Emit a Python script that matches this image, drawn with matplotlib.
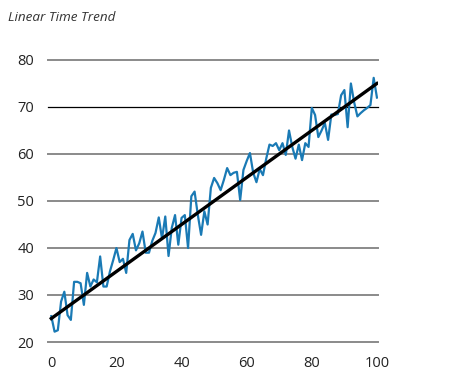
import numpy as np
import matplotlib
matplotlib.use("Agg")
import matplotlib.pyplot as plt

# ==========================
# DATA
# ==========================

x = np.arange(0, 101)

observed = [
    25.5, 22.2, 22.5, 28.6, 30.7, 25.7, 24.7, 32.8, 32.8, 32.5,
    27.9, 34.7, 31.8, 33.3, 32.7, 38.2, 31.8, 31.8, 35.0, 37.4,
    40.0, 37.0, 37.7, 34.7, 41.7, 43.0, 39.5, 41.0, 43.5, 39.0,
    39.0, 41.5, 43.2, 46.5, 42.0, 46.7, 38.3, 44.3, 47.0, 40.7,
    46.4, 47.0, 40.0, 51.0, 52.0, 47.0, 42.8, 47.8, 45.0, 52.8,
    54.9, 53.8, 52.3, 54.5, 57.0, 55.5, 56.0, 56.2, 50.2, 56.6,
    58.5, 60.2, 56.0, 54.0, 56.8, 55.5, 59.0, 62.0, 61.7, 62.3,
    60.8, 62.3, 59.8, 65.0, 61.5, 59.0, 62.0, 58.7, 62.3, 61.5,
    69.8, 68.3, 63.6, 65.0, 66.6, 63.0, 68.4, 68.3, 68.5, 72.5,
    73.6, 65.7, 75.0, 71.0, 68.0, 68.7, 69.3, 69.8, 70.4, 76.2,
    72.0,
]

trend_start = 25.0
trend_slope = 0.5
trend = trend_start + trend_slope * x

y_ticks = [20, 30, 40, 50, 60, 70, 80]
x_ticks = [0, 20, 40, 60, 80, 100]

# ==========================
# CHART
# ==========================

plt.rcParams['font.family'] = ['Open Sans', 'DejaVu Sans']

fig = plt.figure(figsize=(4.62, 3.82), dpi=100)
ax = fig.add_axes([0.104, 0.1047, 0.714, 0.7383])

ax.plot(x, observed, color='#1a7ab5', linewidth=1.6, zorder=3)
ax.plot(x, trend, color='black', linewidth=2.4, zorder=4)

ax.set_xlim(-1, 100.3)
ax.set_ylim(20, 80)
ax.set_yticks(y_ticks)
ax.set_xticks(x_ticks)

ax.yaxis.grid(True, color='#8a8a8a', linewidth=1.4, clip_on=False)
ax.set_axisbelow(True)
for tick, line in zip(y_ticks, ax.get_ygridlines()):
    line.set_clip_on(False)
    if tick == 70:
        line.set_color('black')
        line.set_linewidth(0.9)

for s in ax.spines.values():
    s.set_visible(False)

ax.tick_params(axis='both', length=0, labelsize=10.5, colors='#222222')
ax.tick_params(axis='y', pad=10)
ax.tick_params(axis='x', pad=10)

fig.text(0.017, 0.955, "Linear Time Trend", fontsize=9.7, style='italic',
         color='#333333', va='center', ha='left')

fig.savefig("out.png", dpi=100)
plt.close()
